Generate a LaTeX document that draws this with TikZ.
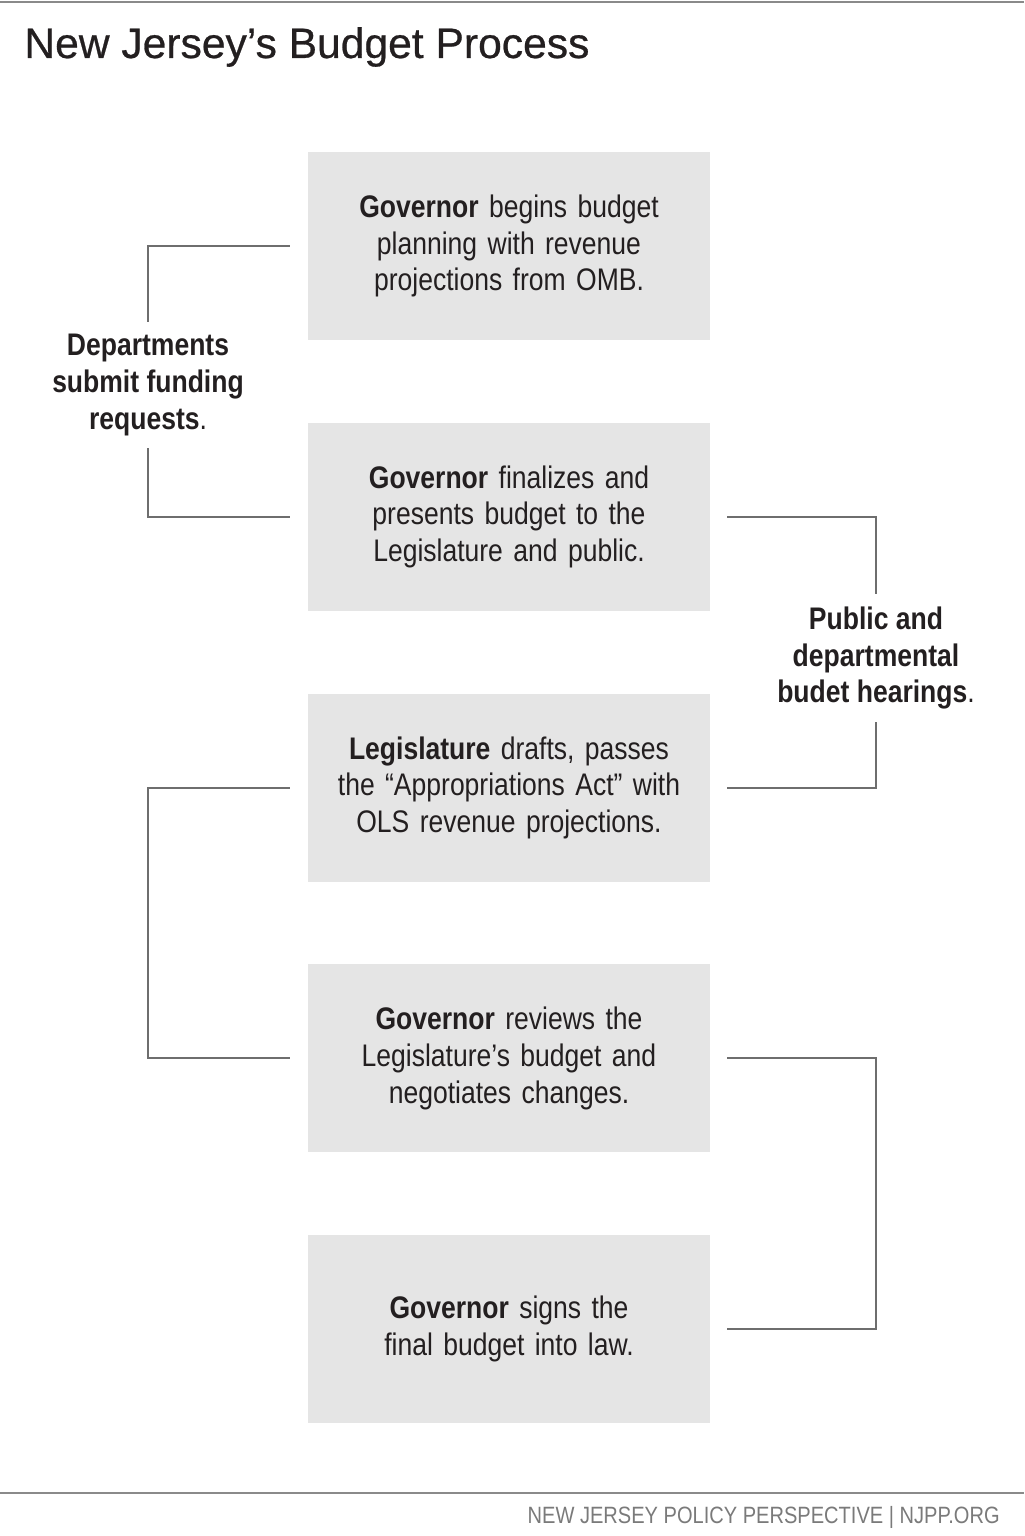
\documentclass[tikz,border=0pt]{standalone}
\usepackage{fontspec}
\setmainfont{Liberation Sans}[FakeStretch=0.85]
\newfontfamily\titlefont{Liberation Sans}[FakeBold=0.6]
\usepackage{tikz}
\usetikzlibrary{positioning,calc}
\definecolor{ink}{HTML}{231F20}
\definecolor{boxgray}{HTML}{E5E5E5}
\definecolor{linegray}{HTML}{6E6E6E}
\definecolor{rulegray}{HTML}{8A8A8A}
\definecolor{footgray}{HTML}{7A7A7A}
\tikzset{
  stepbox/.style={fill=boxgray,draw=none,
                  minimum width=201pt,minimum height=94pt,
                  text width=195pt,inner sep=0pt,align=center,
                  font=\fontsize{15.6}{18.3}\selectfont,text=ink},
  sidenote/.style={align=center,inner sep=0pt,
                   font=\fontsize{15.6}{18.3}\selectfont,text=ink},
  bracket/.style={draw=linegray,line width=1pt},
  toprule/.style={draw=rulegray,line width=1pt}
}

\begin{document}
\begin{tikzpicture}[x=0.5pt,y=-0.5pt]
  \useasboundingbox (0,0) rectangle (1024,1536);
  % rules and title
  \draw[toprule] (0,2) -- (1024,2);
  \draw[toprule] (0,1493) -- (1024,1493);
  \node[anchor=base west,inner sep=0pt,text=ink,
        font=\titlefont\fontsize{21.3}{25}\selectfont] (title) at (24,58)
    {New Jersey’s Budget Process};
  \node[anchor=base east,inner sep=0pt,text=footgray,
        font=\fontsize{11.8}{15}\selectfont] (footer) at (1000,1523)
    {NEW JERSEY POLICY PERSPECTIVE | NJPP.ORG};

  % the five steps
  \node[stepbox] (gov1) at (509,246)
    {\textbf{Governor} begins budget\\planning with revenue\\projections from OMB.};
  \node[stepbox,below=41pt of gov1] (gov2)
    {\textbf{Governor} finalizes and\\presents budget to the\\Legislature and public.};
  \node[stepbox,below=41pt of gov2] (leg)
    {\textbf{Legislature} drafts, passes\\the “Appropriations Act” with\\OLS revenue projections.};
  \node[stepbox,below=41pt of leg] (gov3)
    {\textbf{Governor} reviews the\\Legislature’s budget and\\negotiates changes.};
  \node[stepbox,below=41pt of gov3] (gov4)
    {\textbf{Governor} signs the\\final budget into law.};

  % side notes
  \node[sidenote,inner ysep=6pt] (dept) at (148,385)
    {\textbf{Departments}\\\textbf{submit funding}\\\textbf{requests}.};
  \node[sidenote,inner ysep=6pt] (hear) at (876,658)
    {\textbf{Public and}\\\textbf{departmental}\\\textbf{budet hearings}.};

  % brackets
  \draw[bracket] ($(gov1.west)+(-18,0)$) -| (dept.north);
  \draw[bracket] ($(gov2.west)+(-18,0)$) -| (dept.south);
  \draw[bracket] ($(gov2.east)+(17,0)$) -| (hear.north);
  \draw[bracket] ($(leg.east)+(17,0)$) -| (hear.south);
  \draw[bracket] ($(leg.west)+(-18,0)$) -- ++(-142,0) |- ($(gov3.west)+(-18,0)$);
  \draw[bracket] ($(gov3.east)+(17,0)$) -- ++(149,0) |- ($(gov4.east)+(17,0)$);
\end{tikzpicture}
\end{document}
